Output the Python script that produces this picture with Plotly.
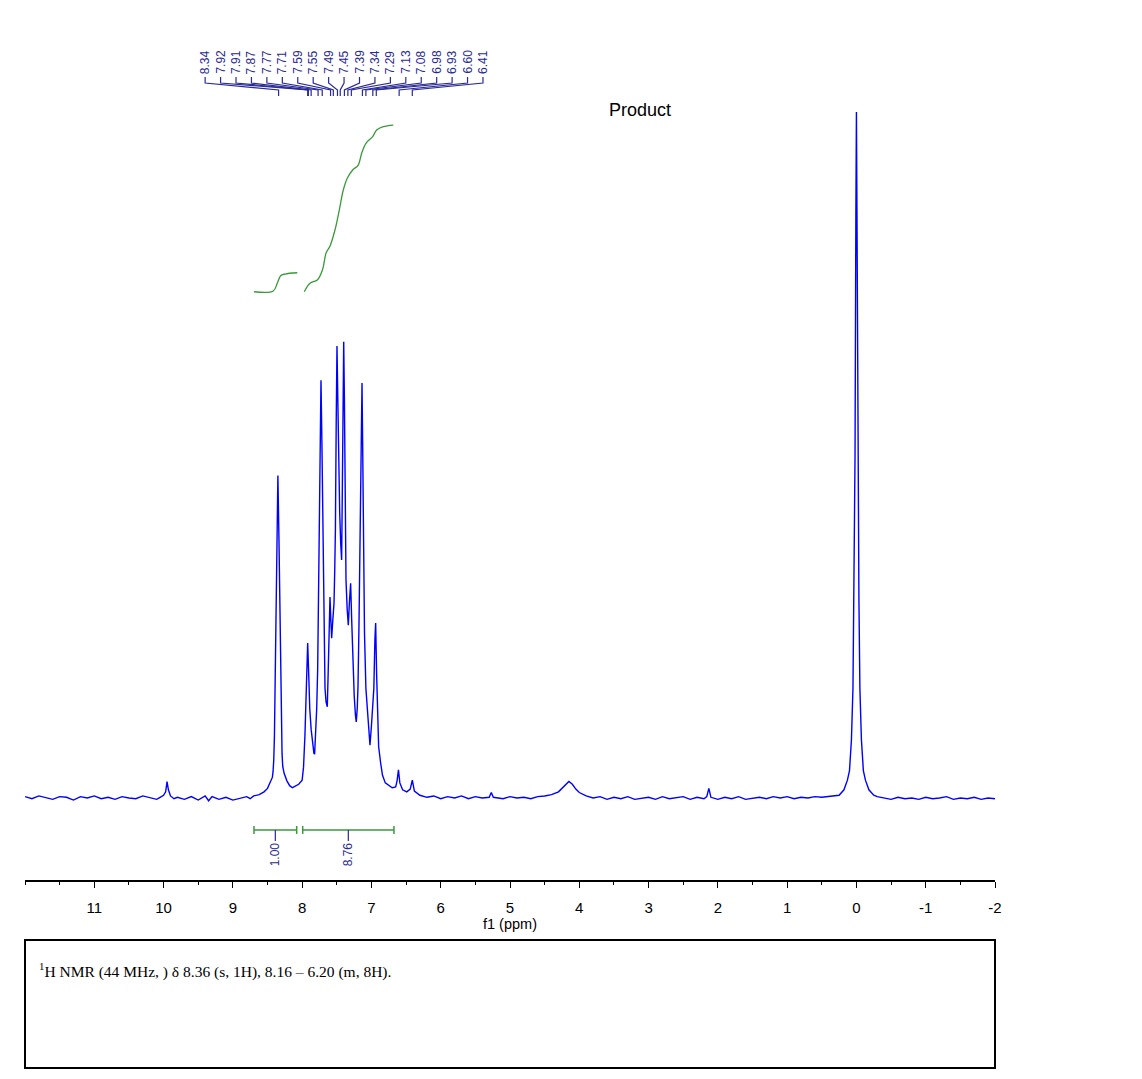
import numpy as np
import plotly.graph_objects as go

# ---------------- data ----------------
# 1H NMR spectrum (ppm, intensity with TMS = 100), in regions
left_ppm = [12.0, 11.9, 11.8, 11.7, 11.6, 11.5, 11.4, 11.3, 11.2, 11.1, 11.0, 10.9, 10.8, 10.7, 10.6, 10.5, 10.4,
            10.3, 10.2, 10.1, 10.05, 10.0, 9.97, 9.95, 9.93, 9.90, 9.85, 9.8, 9.7, 9.6, 9.5, 9.4, 9.35, 9.3, 9.2,
            9.1, 9.0, 8.9, 8.8, 8.75]
left_int = [0.2, -0.1, 0.3, 0.0, -0.2, 0.2, 0.1, -0.3, 0.2, 0.0, 0.3, -0.1, 0.1, -0.2, 0.2, 0.0, -0.1,
            0.3, 0.1, -0.2, 0.1, 0.4, 0.9, 2.4, 1.2, 0.3, -0.1, 0.1, -0.2, 0.2, -0.3, 0.3, -0.4, 0.2, -0.2,
            0.1, -0.3, 0.0, 0.2, -0.1]

arom_ppm = [8.7, 8.62, 8.55, 8.5, 8.46, 8.43, 8.42, 8.41, 8.40, 8.39, 8.38, 8.368, 8.35, 8.335, 8.322, 8.31,
            8.30, 8.29, 8.28, 8.26, 8.22, 8.18, 8.14, 8.10, 8.05, 8.0, 7.98, 7.96, 7.94, 7.92, 7.905, 7.89,
            7.87, 7.85, 7.83, 7.82, 7.805, 7.79, 7.776, 7.765, 7.753, 7.74, 7.728, 7.715, 7.70, 7.685, 7.67,
            7.655, 7.637, 7.625, 7.61, 7.598, 7.586, 7.574, 7.557, 7.54, 7.53, 7.52, 7.508, 7.497, 7.485,
            7.47, 7.458, 7.443, 7.43, 7.42, 7.41, 7.40, 7.39, 7.378, 7.367, 7.35, 7.334, 7.318, 7.30, 7.285,
            7.27, 7.248, 7.23, 7.219, 7.205, 7.194, 7.18, 7.165, 7.15, 7.136, 7.127, 7.118, 7.10, 7.08, 7.06,
            7.04, 7.021, 7.00, 6.982, 6.965, 6.95, 6.939, 6.925, 6.91, 6.896, 6.867, 6.84, 6.80, 6.75, 6.70,
            6.65, 6.63, 6.61, 6.59, 6.55, 6.49, 6.44, 6.41, 6.38]
arom_int = [0.3, 0.5, 0.9, 1.4, 2.2, 3.0, 3.8, 5.5, 9.0, 17.0, 27.0, 38.0, 47.0, 38.0, 27.0, 17.0,
            10.0, 6.5, 4.6, 3.6, 2.5, 1.8, 1.5, 1.7, 2.0, 2.6, 4.5, 9.0, 16.0, 22.6, 18.0, 13.0,
            10.0, 8.0, 6.5, 6.4, 9.0, 13.0, 18.7, 28.0, 39.0, 52.0, 60.9, 52.0, 39.0, 19.7, 16.0,
            14.0, 13.3, 18.0, 25.0, 29.3, 26.0, 23.3, 26.0, 28.4, 33.0, 39.0, 55.0, 65.9, 58.0,
            46.0, 41.5, 37.0, 34.7, 45.0, 58.0, 66.5, 58.0, 42.0, 31.8, 27.5, 25.2, 28.5, 31.3, 26.0,
            20.0, 14.8, 12.0, 11.1, 13.0, 16.2, 25.0, 39.0, 53.0, 60.5, 52.0, 39.0, 24.0, 16.0, 13.1,
            9.5, 7.7, 10.5, 12.8, 16.0, 23.0, 25.5, 18.0, 11.0, 7.5, 5.1, 3.3, 2.2, 1.8, 1.5,
            1.6, 2.5, 4.1, 2.2, 1.2, 0.9, 1.3, 2.6, 1.0]

mid_ppm = [6.3, 6.2, 6.1, 6.0, 5.9, 5.8, 5.7, 5.6, 5.5, 5.4, 5.3, 5.27, 5.24, 5.1, 5.0, 4.9, 4.8, 4.7, 4.6,
           4.5, 4.4, 4.3, 4.25, 4.2, 4.15, 4.1, 4.05, 4.0, 3.9, 3.8, 3.7, 3.6, 3.5, 3.4, 3.3, 3.2, 3.1, 3.0,
           2.9, 2.8, 2.7, 2.6, 2.5, 2.4, 2.3, 2.2, 2.16, 2.13, 2.10, 2.0, 1.9, 1.8, 1.7, 1.6, 1.5, 1.4, 1.3,
           1.2, 1.1, 1.0, 0.9, 0.8, 0.7, 0.6, 0.5, 0.4, 0.3]
mid_int = [0.4, 0.1, 0.3, -0.1, 0.2, 0.0, 0.3, -0.1, 0.2, 0.0, 0.1, 0.8, 0.1, -0.1, 0.2, 0.0, 0.1, -0.1, 0.2,
           0.3, 0.5, 0.9, 1.4, 2.0, 2.4, 2.0, 1.3, 0.8, 0.3, 0.0, 0.2, -0.2, 0.1, -0.1, 0.2, -0.2, 0.0, 0.1,
           -0.2, 0.2, -0.1, 0.0, 0.2, -0.2, 0.1, -0.1, 0.2, 1.4, 0.1, -0.2, 0.1, -0.1, 0.2, -0.2, 0.0, 0.1, -0.1,
           0.2, 0.0, 0.2, -0.1, 0.1, 0.0, 0.2, 0.1, 0.2, 0.3]

tms_ppm = [0.25, 0.18, 0.13, 0.10, 0.072, 0.05, 0.036, 0.02, 0.008, 0.0, -0.008, -0.02, -0.036, -0.05,
           -0.072, -0.10, -0.13, -0.18, -0.25]
tms_int = [0.4, 1.2, 2.6, 4.0, 8.5, 16.0, 29.0, 50.0, 85.0, 100.0, 85.0, 50.0, 29.0, 16.0,
           8.5, 4.0, 2.6, 1.2, 0.4]

right_ppm = [-0.3, -0.4, -0.5, -0.6, -0.7, -0.8, -0.9, -1.0, -1.1, -1.2, -1.3, -1.4, -1.5, -1.6, -1.7,
             -1.8, -1.9, -2.0]
right_int = [0.2, 0.0, -0.2, 0.1, -0.1, 0.0, -0.2, 0.1, -0.1, 0.0, 0.2, -0.2, 0.0, -0.1, 0.1,
             -0.2, 0.0, -0.1]

# peak picking labels
peak_labels = ["8.34", "7.92", "7.91", "7.87", "7.77", "7.71", "7.59", "7.55", "7.49", "7.45",
               "7.39", "7.34", "7.29", "7.13", "7.08", "6.98", "6.93", "6.60", "6.41"]

# integration regions, values and integral curves
int_ranges = [(8.695, 8.079), (7.992, 6.675)]
int_values = ["1.00", "8.76"]
int1_ppm = [8.695, 8.417, 8.359, 8.31, 8.248, 8.07]
int1_val = [73.80, 73.91, 75.03, 76.14, 76.38, 76.57]
int2_ppm = [7.969, 7.887, 7.781, 7.704, 7.656, 7.598, 7.526, 7.464, 7.406, 7.349, 7.271, 7.19, 7.141,
            7.079, 6.982, 6.924, 6.829, 6.685]
int2_val = [73.80, 75.03, 75.51, 77.07, 79.40, 80.47, 82.80, 85.71, 88.63, 90.34, 91.55, 92.27, 93.98,
            95.44, 96.40, 97.38, 97.86, 98.10]

tick_vals = [11, 10, 9, 8, 7, 6, 5, 4, 3, 2, 1, 0, -1, -2]
tick_text = ["11", "10", "9", "8", "7", "6", "5", "4", "3", "2", "1", "0", "-1", "-2"]

title_text = "Product"
footer_text = "<sup>1</sup>H NMR (44 MHz, ) δ 8.36 (s, 1H), 8.16 – 6.20 (m, 8H)."

ppm = left_ppm + arom_ppm + mid_ppm + tms_ppm + right_ppm
intensity = left_int + arom_int + mid_int + tms_int + right_int
assert len(ppm) == len(intensity)

# ---------------- style ----------------
NAVY = "#2a2a96"
GREEN = "#3a9a3a"
BLUE = "#0000ff"
W, H = 1142, 1079
ML, MR, MT, MB = 25, 147, 20, 199
PLOT_H = H - MT - MB
LABEL_FONT = dict(family="Liberation Sans, Arial", size=12, color=NAVY)


def yp(py):
    """pixel row -> paper y"""
    return (H - MB - py) / PLOT_H


fig = go.Figure()
fig.add_trace(go.Scatter(x=ppm, y=intensity, mode="lines",
                         line=dict(color=BLUE, width=1.4), hoverinfo="skip"))
fig.add_trace(go.Scatter(x=int1_ppm, y=int1_val, mode="lines",
                         line=dict(color=GREEN, width=1.3, shape="spline"), hoverinfo="skip"))
fig.add_trace(go.Scatter(x=int2_ppm, y=int2_val, mode="lines",
                         line=dict(color=GREEN, width=1.3, shape="spline"), hoverinfo="skip"))

shapes = []
annotations = []

# peak labels with connecting brackets
label_x = np.linspace(9.40, 5.39, len(peak_labels))
for lx, lab in zip(label_x, peak_labels):
    px = float(lab)
    shapes.append(dict(type="path", xref="x", yref="paper",
                       path=f"M {lx},{yp(77)} L {lx},{yp(83)} L {px},{yp(90)} L {px},{yp(96)}",
                       line=dict(color=NAVY, width=1.2)))
    annotations.append(dict(x=lx, y=yp(76), xref="x", yref="paper", text=lab, showarrow=False,
                            textangle=-90, xanchor="center", yanchor="bottom", font=LABEL_FONT))

# integration bars
bar_y = -4.66
cap = 0.58
for (a, b), v in zip(int_ranges, int_values):
    mid = (a + b) / 2
    shapes.append(dict(type="line", xref="x", yref="y", x0=a, x1=b, y0=bar_y, y1=bar_y,
                       line=dict(color=GREEN, width=1.5)))
    for e in (a, b):
        shapes.append(dict(type="line", xref="x", yref="y", x0=e, x1=e, y0=bar_y - cap, y1=bar_y + cap,
                           line=dict(color=GREEN, width=1.5)))
    shapes.append(dict(type="line", xref="x", yref="paper", x0=mid, x1=mid, y0=yp(830), y1=yp(841),
                       line=dict(color=NAVY, width=1.2)))
    annotations.append(dict(x=mid, y=yp(840), xref="x", yref="paper", text=v, showarrow=False,
                            textangle=-90, xanchor="center", yanchor="top", font=LABEL_FONT))

# title
annotations.append(dict(x=(640 - ML) / (W - ML - MR), y=yp(110), xref="paper", yref="paper",
                        text=title_text, showarrow=False, xanchor="center", yanchor="middle",
                        font=dict(family="Liberation Sans, Arial", size=18, color="black")))

# footer box
shapes.append(dict(type="rect", xref="paper", yref="paper", x0=0, x1=1, y0=yp(1068), y1=yp(940),
                   line=dict(color="black", width=2)))
annotations.append(dict(x=(37 - ML) / (W - ML - MR), y=yp(970), xref="paper", yref="paper",
                        text=footer_text, showarrow=False, xanchor="left", yanchor="middle",
                        font=dict(family="Liberation Serif, Times New Roman", size=15.5, color="black")))

y_lo = -(H - MB - 798) / 6.86
y_hi = (798 - MT) / 6.86

fig.update_layout(
    width=W, height=H,
    margin=dict(l=ML, r=MR, t=MT, b=MB),
    paper_bgcolor="white", plot_bgcolor="white",
    showlegend=False,
    shapes=shapes, annotations=annotations,
    xaxis=dict(range=[12, -2], tickvals=tick_vals, ticktext=tick_text, ticks="outside", ticklen=6,
               tickwidth=1, tickcolor="black", showline=True, linecolor="black", linewidth=1.5,
               showgrid=False, zeroline=False, ticklabelstandoff=7,
               minor=dict(dtick=0.5, tick0=0, ticks="outside", ticklen=3, tickcolor="black", showgrid=False),
               tickfont=dict(family="Liberation Sans, Arial", size=15, color="black"),
               title=dict(text="f1 (ppm)", standoff=0,
                          font=dict(family="Liberation Sans, Arial", size=14.5, color="black"))),
    yaxis=dict(range=[y_lo, y_hi], visible=False, showgrid=False, zeroline=False),
)

fig.write_html("out.html")
